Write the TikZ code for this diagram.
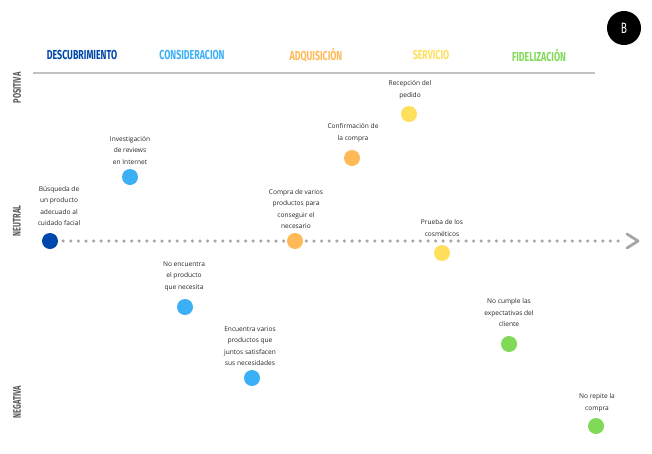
\documentclass[tikz,border=0pt]{standalone}
\usepackage{fontspec}
\setmainfont{Open Sans}
\newfontfamily\headfont{Fira Sans}
\usetikzlibrary{arrows.meta}
\definecolor{cdb}{HTML}{0047AB}
\definecolor{clb}{HTML}{3BB0F5}
\definecolor{cor}{HTML}{FFB957}
\definecolor{cye}{HTML}{FFDF5C}
\definecolor{cgr}{HTML}{80D957}
\definecolor{cgy}{HTML}{A6A6A6}
\tikzset{
 pt/.style={circle,minimum size=16pt,inner sep=0pt},
 lbl/.style={align=center,font=\fontsize{6.6}{11.5}\selectfont,text=black!85},
 hd/.style={font=\headfont\bfseries\fontsize{13}{13}\selectfont},
 side/.style={rotate=90,font=\headfont\bfseries\fontsize{11}{11}\selectfont,text=black!65}
}
\newcommand{\cond}[1]{\scalebox{0.68}[1]{#1}}
\begin{document}
\begin{tikzpicture}[x=1pt,y=-1pt]
\useasboundingbox (0,0) rectangle (652,453);
\node[circle,fill=black,minimum size=34pt,inner sep=0pt,text=white,font=\headfont\fontsize{15}{15}\selectfont] (B) at (624,28) {\cond{B}};
\node[hd,text=cdb] (h1) at (82,55) {\cond{DESCUBRIMIENTO}};
\node[hd,text=clb] (h2) at (192,55) {\cond{CONSIDERACION}};
\node[hd,text=cor] (h3) at (316,55) {\cond{ADQUISICIÓN}};
\node[hd,text=cye] (h4) at (431,55) {\cond{SERVICIO}};
\node[hd,text=cgr] (h5) at (539,55) {\cond{FIDELIZACIÓN}};
\coordinate (tl) at (33,73); \coordinate (tr) at (595,73);
\draw[cgy!70,line width=1.2pt] (tl) -- (tr);
\node[side] (s1) at (17,88) {\cond{POSITIVA}};
\node[side] (s2) at (17,221) {\cond{NEUTRAL}};
\node[side] (s3) at (17,402) {\cond{NEGATIVA}};
\node[pt,fill=cdb] (p1) at (50,241) {};
\coordinate (ae) at (638,241);
\draw[cgy,line width=3.5pt,line cap=round,dash pattern=on 0pt off 7.6pt] (p1.east) ++(5,0) -- (620,241);
\draw[cgy,line width=2.8pt,line cap=round,line join=round] (627,234) -- (ae) -- (627,248);
\node[pt,fill=clb] (p2) at (130,177) {};
\node[pt,fill=clb] (p3) at (185,307) {};
\node[pt,fill=clb] (p4) at (252,378) {};
\node[pt,fill=cor] (p5) at (295,241) {};
\node[pt,fill=cor] (p6) at (352,158) {};
\node[pt,fill=cye] (p7) at (409,114) {};
\node[pt,fill=cye] (p8) at (442,253) {};
\node[pt,fill=cgr] (p9) at (509,344) {};
\node[pt,fill=cgr] (p10) at (596,426) {};
\node[lbl] (l7) at (410,90) {Recepción del\\pedido};
\node[lbl] (l6) at (353,133) {Confirmación de\\la compra};
\node[lbl] (l2) at (130,150) {Investigación\\de reviews\\en Internet};
\node[lbl] (l1) at (59,206) {Búsqueda de\\un producto\\adecuado al\\cuidado facial};
\node[lbl] (l5) at (296,209) {Compra de varios\\productos para\\conseguir el\\necesario};
\node[lbl] (l8) at (442,228) {Prueba de los\\cosméticos};
\node[lbl] (l3) at (184,276) {No encuentra\\el producto\\que necesita};
\node[lbl] (l4) at (250,346) {Encuentra varios\\productos que\\juntos satisfacen\\sus necesidades};
\node[lbl] (l9) at (509,313) {No cumple las\\expectativas del\\cliente};
\node[lbl] (l10) at (597,403) {No repite la\\compra};
\end{tikzpicture}
\end{document}
